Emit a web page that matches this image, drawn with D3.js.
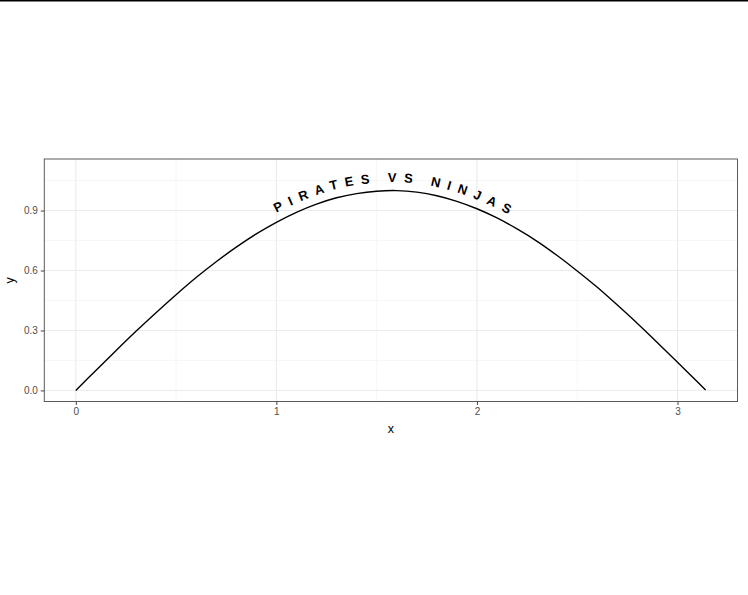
<!DOCTYPE html>
<html>
<head>
<meta charset="utf-8">
<script src="https://cdn.jsdelivr.net/npm/d3@7"></script>
<style>
  body { margin: 0; background: #fff; }
  text { font-family: "Liberation Sans", Arial, sans-serif; }
</style>
</head>
<body>
<svg id="chart0"></svg>
<script>
// values
var xs = [0, 0.1, 0.2, 0.3, 0.4, 0.5, 0.6, 0.7, 0.8, 0.9, 1.0, 1.1, 1.2, 1.3, 1.4, 1.5,
	1.6, 1.7, 1.8, 1.9, 2.0, 2.1, 2.2, 2.3, 2.4, 2.5, 2.6, 2.7, 2.8, 2.9, 3.0, 3.1, 3.14];
var ys = [0, 0.100, 0.199, 0.296, 0.389, 0.479, 0.565, 0.644, 0.717, 0.783, 0.841, 0.891,
	0.932, 0.964, 0.985, 0.997, 1.000, 0.992, 0.974, 0.946, 0.909, 0.863, 0.808, 0.746,
	0.675, 0.598, 0.516, 0.427, 0.335, 0.239, 0.141, 0.042, 0.002];
var x_breaks = [0, 1, 2, 3];
var x_minor = [0.5, 1.5, 2.5];
var y_breaks = [0, 0.3, 0.6, 0.9];
var y_minor = [0.15, 0.45, 0.75, 1.05];
var label_text = 'PIRATES VS NINJAS';

var width = 748, height = 595;
var panel = {'left': 44.3, 'right': 737.5, 'top': 159, 'bottom': 401.5};

var points = xs.map(function(d, i) { return {'x': d, 'y': ys[i]}; });

var x_conv = d3.scaleLinear()
	.domain([-0.157, 3.299])
	.range([panel.left, panel.right]);

var y_conv = d3.scaleLinear()
	.domain([-0.0553, 1.158])
	.range([panel.bottom, panel.top]);

var svg = d3.select('#chart0')
	.attr('width', width)
	.attr('height', height);

// black rule at the very top
svg.append('rect')
	.attr('x', 0).attr('y', 0)
	.attr('width', width).attr('height', 1.5)
	.attr('fill', '#000');

var chart = svg.append('g');

// minor grid
chart.selectAll('line.vminor')
	.data(x_minor).enter()
	.append('line')
	.attr('x1', function(d) { return x_conv(d); })
	.attr('x2', function(d) { return x_conv(d); })
	.attr('y1', panel.top).attr('y2', panel.bottom)
	.attr('stroke', '#F2F2F2').attr('stroke-width', 0.6);

chart.selectAll('line.hminor')
	.data(y_minor).enter()
	.append('line')
	.attr('y1', function(d) { return y_conv(d); })
	.attr('y2', function(d) { return y_conv(d); })
	.attr('x1', panel.left).attr('x2', panel.right)
	.attr('stroke', '#F2F2F2').attr('stroke-width', 0.6);

// major grid
chart.selectAll('line.vmajor')
	.data(x_breaks).enter()
	.append('line')
	.attr('x1', function(d) { return x_conv(d); })
	.attr('x2', function(d) { return x_conv(d); })
	.attr('y1', panel.top).attr('y2', panel.bottom)
	.attr('stroke', '#EBEBEB').attr('stroke-width', 1.1);

chart.selectAll('line.hmajor')
	.data(y_breaks).enter()
	.append('line')
	.attr('y1', function(d) { return y_conv(d); })
	.attr('y2', function(d) { return y_conv(d); })
	.attr('x1', panel.left).attr('x2', panel.right)
	.attr('stroke', '#EBEBEB').attr('stroke-width', 1.1);

// curve
var line = d3.line()
	.x(function(d) { return x_conv(d.x); })
	.y(function(d) { return y_conv(d.y); })
	.curve(d3.curveCatmullRom);

var curve = chart.append('path')
	.datum(points)
	.attr('d', line)
	.attr('fill', 'none')
	.attr('stroke', '#000')
	.attr('stroke-width', 1.4);

// offset path above the curve for the label
var node = curve.node();
var total = node.getTotalLength();
var offset = 8.5;
var off_pts = [];
var n = 300;
for (var i = 0; i <= n; i++) {
	var l = total * i / n;
	var p = node.getPointAtLength(l);
	var a = node.getPointAtLength(Math.max(0, l - 1));
	var b = node.getPointAtLength(Math.min(total, l + 1));
	var dx = b.x - a.x, dy = b.y - a.y;
	var len = Math.sqrt(dx * dx + dy * dy) || 1;
	// normal pointing upward on screen
	off_pts.push([p.x + dy / len * offset, p.y - dx / len * offset]);
}

var label_path = chart.append('path')
	.attr('id', 'label_path')
	.attr('d', d3.line()(off_pts))
	.attr('fill', 'none')
	.attr('stroke', 'none');

var spacing = 7.2;
var half = label_path.node().getTotalLength() / 2;

chart.append('text')
	.attr('font-size', '13px')
	.attr('font-weight', 'bold')
	.attr('letter-spacing', spacing + 'px')
	.attr('fill', '#000')
	.append('textPath')
	.attr('href', '#label_path')
	.attr('startOffset', (half + spacing / 2 + 2) + 'px')
	.attr('text-anchor', 'middle')
	.text(label_text);

// panel border
chart.append('rect')
	.attr('x', panel.left).attr('y', panel.top)
	.attr('width', panel.right - panel.left)
	.attr('height', panel.bottom - panel.top)
	.attr('fill', 'none')
	.attr('stroke', '#5a5a5a')
	.attr('stroke-width', 1);

// axes
var x_axis = d3.axisBottom(x_conv)
	.tickValues(x_breaks)
	.tickSize(3.5)
	.tickPadding(3)
	.tickFormat(d3.format('d'));

var y_axis = d3.axisLeft(y_conv)
	.tickValues(y_breaks)
	.tickSize(3.5)
	.tickPadding(3)
	.tickFormat(d3.format('.1f'));

var gx = chart.append('g')
	.attr('transform', 'translate(0,' + panel.bottom + ')')
	.call(x_axis);

var gy = chart.append('g')
	.attr('transform', 'translate(' + panel.left + ',0)')
	.call(y_axis);

[gx, gy].forEach(function(g) {
	g.select('.domain').remove();
	g.selectAll('.tick line').attr('stroke', '#444').attr('stroke-width', 1);
	g.selectAll('.tick text')
		.attr('fill', '#4D4D4D')
		.style('font-size', '10px')
		.style('font-family', '"Liberation Sans", Arial, sans-serif');
});

// axis titles
svg.append('text')
	.attr('x', (panel.left + panel.right) / 2)
	.attr('y', 433)
	.attr('text-anchor', 'middle')
	.attr('font-size', '12.5px')
	.attr('fill', '#000')
	.text('x');

svg.append('text')
	.attr('transform', 'translate(14,' + ((panel.top + panel.bottom) / 2) + ') rotate(-90)')
	.attr('text-anchor', 'middle')
	.attr('font-size', '12.5px')
	.attr('fill', '#000')
	.text('y');
</script>
</body>
</html>
